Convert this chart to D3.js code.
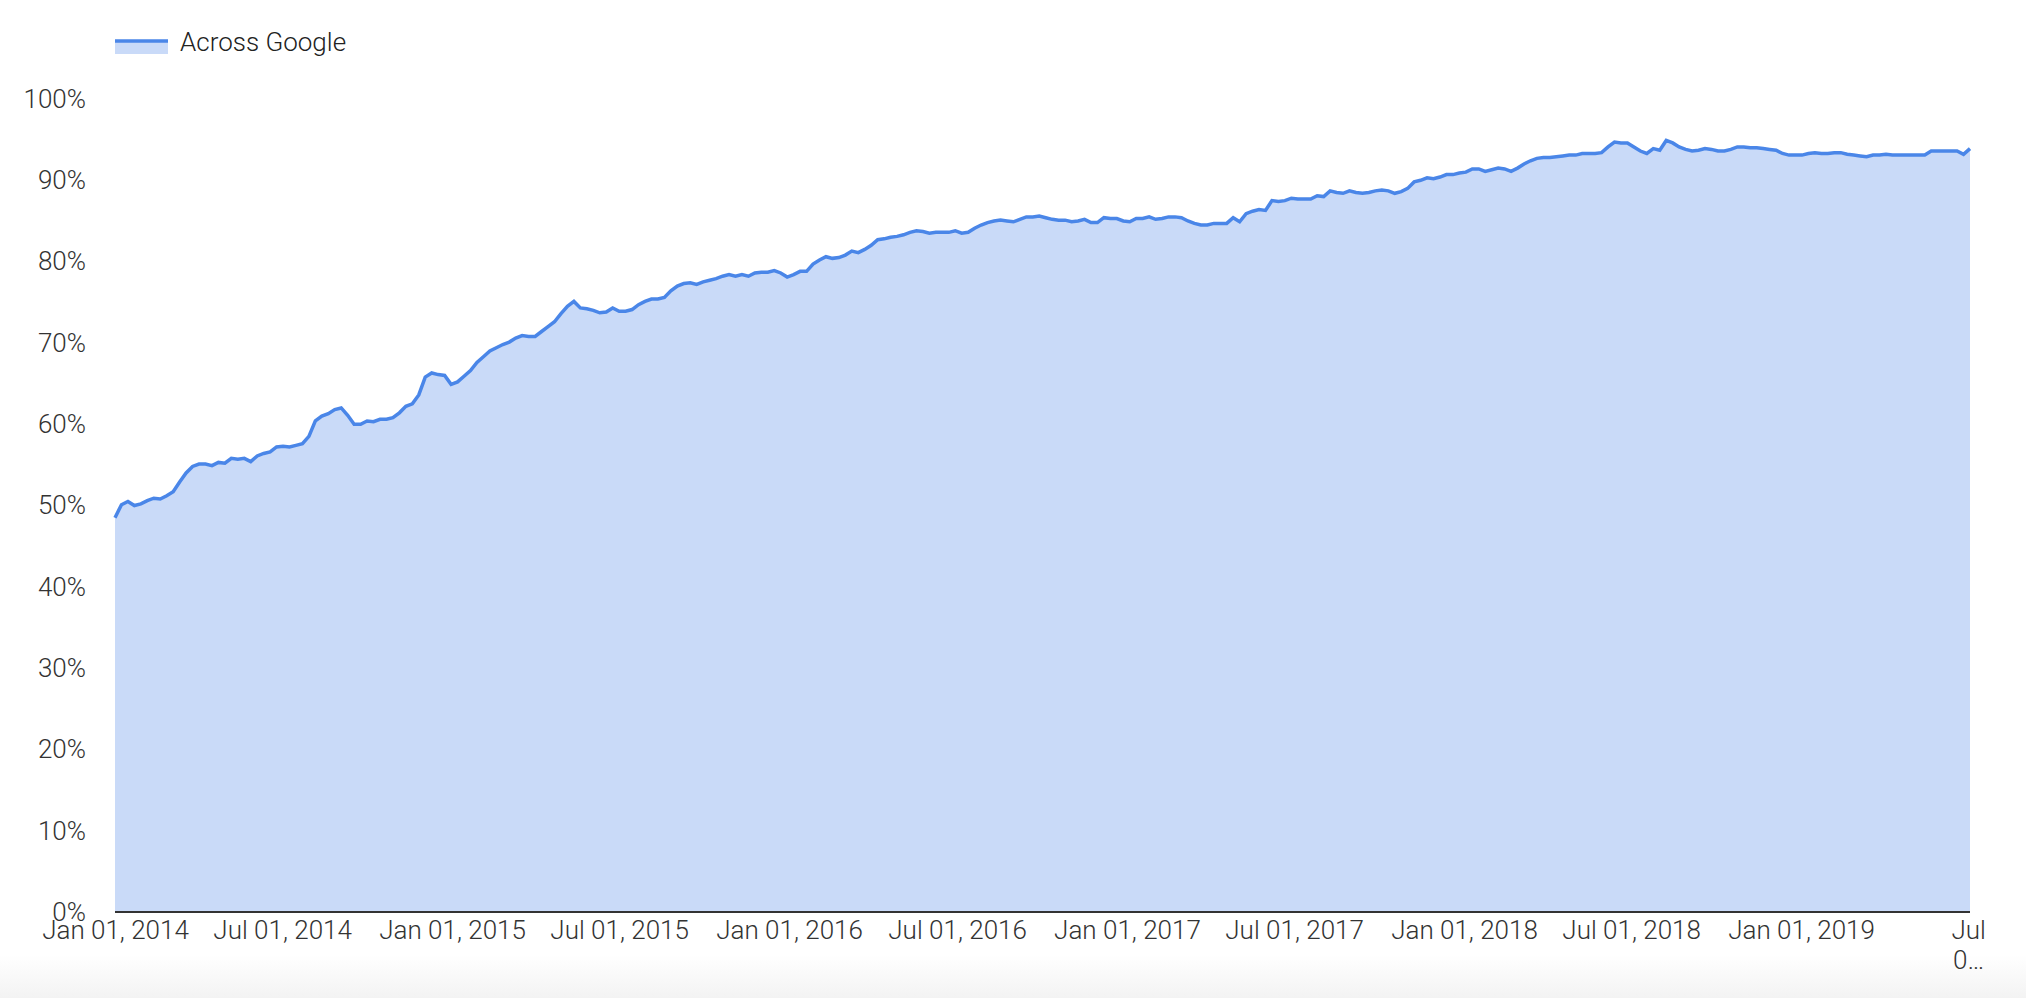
<!DOCTYPE html>
<html>
<head>
<meta charset="utf-8">
<script src="https://cdn.jsdelivr.net/npm/d3@7"></script>
<style>
  html, body { margin: 0; padding: 0; background: #fff; overflow: hidden; }
  svg { display: block; }
</style>
</head>
<body>
<svg id="chart" width="2026" height="998"></svg>
<script>
// weekly share of traffic, %, first point = Jan 01, 2014
var seriesName = 'Across Google';
var startDate = '2014-01-01';
var share = [
  48.5, 50.1, 50.5, 50.0, 50.2, 50.6, 50.9, 50.8, 51.2, 51.7,
  52.9, 54.0, 54.8, 55.1, 55.1, 54.9, 55.3, 55.2, 55.8, 55.7,
  55.8, 55.4, 56.1, 56.4, 56.6, 57.2, 57.3, 57.2, 57.4, 57.6,
  58.5, 60.4, 61.0, 61.3, 61.8, 62.0, 61.1, 60.0, 60.0, 60.4,
  60.3, 60.6, 60.6, 60.8, 61.4, 62.2, 62.5, 63.6, 65.8, 66.3,
  66.1, 66.0, 64.9, 65.2, 65.9, 66.6, 67.6, 68.3, 69.0, 69.4,
  69.8, 70.1, 70.6, 70.9, 70.8, 70.8, 71.4, 72.0, 72.6, 73.6,
  74.5, 75.1, 74.3, 74.2, 74.0, 73.7, 73.8, 74.3, 73.9, 73.9,
  74.1, 74.7, 75.1, 75.4, 75.4, 75.6, 76.4, 77.0, 77.3, 77.4,
  77.2, 77.5, 77.7, 77.9, 78.2, 78.4, 78.2, 78.4, 78.2, 78.6,
  78.7, 78.7, 78.9, 78.6, 78.1, 78.4, 78.8, 78.8, 79.7, 80.2,
  80.6, 80.4, 80.5, 80.8, 81.3, 81.1, 81.5, 82.0, 82.7, 82.8,
  83.0, 83.1, 83.3, 83.6, 83.8, 83.7, 83.5, 83.6, 83.6, 83.6,
  83.8, 83.5, 83.6, 84.1, 84.5, 84.8, 85.0, 85.1, 85.0, 84.9,
  85.2, 85.5, 85.5, 85.6, 85.4, 85.2, 85.1, 85.1, 84.9, 85.0,
  85.2, 84.8, 84.8, 85.4, 85.3, 85.3, 85.0, 84.9, 85.3, 85.3,
  85.5, 85.2, 85.3, 85.5, 85.5, 85.4, 85.0, 84.7, 84.5, 84.5,
  84.7, 84.7, 84.7, 85.4, 84.9, 85.9, 86.2, 86.4, 86.3, 87.5,
  87.4, 87.5, 87.8, 87.7, 87.7, 87.7, 88.1, 88.0, 88.7, 88.5,
  88.4, 88.7, 88.5, 88.4, 88.5, 88.7, 88.8, 88.7, 88.4, 88.6,
  89.0, 89.8, 90.0, 90.3, 90.2, 90.4, 90.7, 90.7, 90.9, 91.0,
  91.4, 91.4, 91.1, 91.3, 91.5, 91.4, 91.1, 91.5, 92.0, 92.4,
  92.7, 92.8, 92.8, 92.9, 93.0, 93.1, 93.1, 93.3, 93.3, 93.3,
  93.4, 94.1, 94.7, 94.6, 94.6, 94.1, 93.6, 93.3, 93.9, 93.7,
  94.9, 94.6, 94.1, 93.8, 93.6, 93.7, 93.9, 93.8, 93.6, 93.6,
  93.8, 94.1, 94.1, 94.0, 94.0, 93.9, 93.8, 93.7, 93.3, 93.1,
  93.1, 93.1, 93.3, 93.4, 93.3, 93.3, 93.4, 93.4, 93.2, 93.1,
  93.0, 92.9, 93.1, 93.1, 93.2, 93.1, 93.1, 93.1, 93.1, 93.1,
  93.1, 93.6, 93.6, 93.6, 93.6, 93.6, 93.2, 93.9
];
var yTicks = [0, 10, 20, 30, 40, 50, 60, 70, 80, 90, 100];
var xTicks = ['2014-01-01', '2014-07-01', '2015-01-01', '2015-07-01', '2016-01-01', '2016-07-01',
  '2017-01-01', '2017-07-01', '2018-01-01', '2018-07-01', '2019-01-01', '2019-07-01'];

(function () {
  var W = 2026, H = 998;
  var L = 115, R = 1970, T = 99, B = 912;
  var FONT = 'Roboto, "Noto Sans", sans-serif';
  var LINE = '#4a86e8', FILL = '#c9daf8';

  var parse = d3.timeParse('%Y-%m-%d');
  var t0 = parse(startDate);
  var data = share.map(function (v, i) { return { date: d3.timeDay.offset(t0, 7 * i), value: v / 100 }; });

  var svg = d3.select('#chart');

  // faint grey band at the very bottom of the frame
  var defs = svg.append('defs');
  var grad = defs.append('linearGradient').attr('id', 'foot').attr('x1', 0).attr('y1', 0).attr('x2', 0).attr('y2', 1);
  grad.append('stop').attr('offset', '0%').attr('stop-color', '#ffffff');
  grad.append('stop').attr('offset', '100%').attr('stop-color', '#f3f3f3');
  svg.append('rect').attr('x', 0).attr('y', 955).attr('width', W).attr('height', H - 955).attr('fill', 'url(#foot)');

  var x = d3.scaleTime().domain([data[0].date, data[data.length - 1].date]).range([L, R]);
  var y = d3.scaleLinear().domain([0, 1]).range([B, T]);

  var area = d3.area().x(function (d) { return x(d.date); }).y0(y(0)).y1(function (d) { return y(d.value); });
  var line = d3.line().x(function (d) { return x(d.date); }).y(function (d) { return y(d.value); });

  svg.append('path').datum(data).attr('d', area).attr('fill', FILL);
  svg.append('path').datum(data).attr('d', line).attr('fill', 'none')
    .attr('stroke', LINE).attr('stroke-width', 3.5).attr('stroke-linejoin', 'miter');

  // baseline
  svg.append('line').attr('x1', L).attr('x2', R).attr('y1', B).attr('y2', B)
    .attr('stroke', '#333').attr('stroke-width', 2);

  // y axis labels
  var gy = svg.append('g').attr('transform', 'translate(' + L + ',0)')
    .call(d3.axisLeft(y).tickValues(yTicks.map(function (v) { return v / 100; }))
      .tickFormat(d3.format('.0%')).tickSize(0).tickPadding(29));
  gy.select('.domain').remove();
  gy.selectAll('text').attr('font-family', FONT).attr('font-size', 26).attr('font-weight', 300).attr('fill', '#333');

  // x axis labels
  var fmt = d3.timeFormat('%b %d, %Y');
  var gx = svg.append('g').attr('transform', 'translate(0,' + B + ')')
    .call(d3.axisBottom(x).tickValues(xTicks.map(parse)).tickFormat(fmt).tickSize(0).tickPadding(9));
  gx.select('.domain').remove();
  gx.selectAll('text').attr('font-family', FONT).attr('font-size', 26).attr('font-weight', 300).attr('fill', '#333');
  // the last label does not fit: google charts wraps and cuts it
  gx.selectAll('.tick').filter(function (d, i) { return i === xTicks.length - 1; }).select('text')
    .each(function (d) {
      var t = d3.select(this), parts = fmt(d).split(' ');
      t.text(null);
      t.append('tspan').attr('x', 0).text(parts[0]);
      t.append('tspan').attr('x', 0).attr('dy', '1.15em').text(parts[1].charAt(0) + '\u2026');
    });

  // legend
  var lg = svg.append('g').attr('transform', 'translate(115,0)');
  lg.append('rect').attr('x', 0).attr('y', 41).attr('width', 53).attr('height', 13).attr('fill', FILL);
  lg.append('line').attr('x1', 0).attr('x2', 53).attr('y1', 41).attr('y2', 41).attr('stroke', LINE).attr('stroke-width', 3.5);
  lg.append('text').attr('x', 65).attr('y', 51).attr('font-family', FONT).attr('font-size', 26).attr('font-weight', 300)
    .attr('fill', '#222').text(seriesName);
})();
</script>
</body>
</html>
